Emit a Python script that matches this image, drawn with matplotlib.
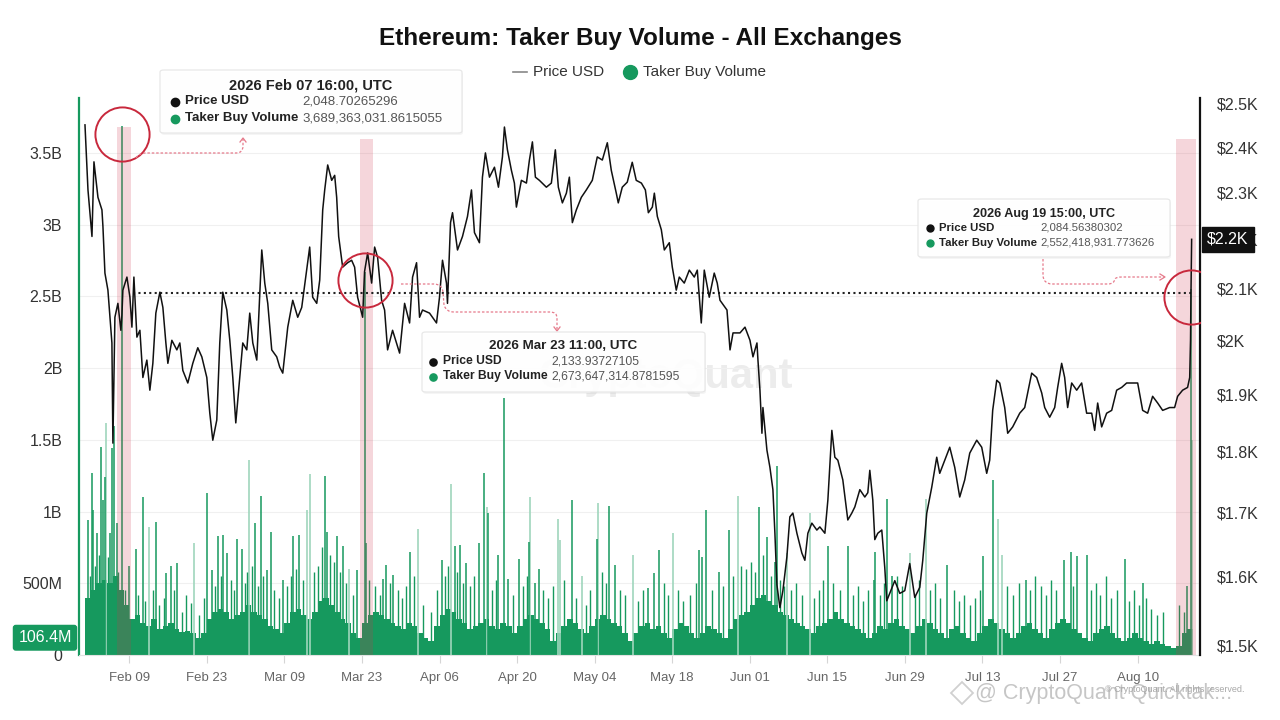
import matplotlib
matplotlib.use('Agg')
import matplotlib.pyplot as plt
import matplotlib.dates as mdates
import matplotlib.patches as mpatches
import matplotlib.transforms as mtrans
from matplotlib.path import Path
from matplotlib.lines import Line2D
import numpy as np
import pandas as pd

plt.rcParams['font.family'] = ['Liberation Sans', 'DejaVu Sans']

START = pd.Timestamp('2026-02-01')

# ---------------- data (days since 2026-02-01 00:00 UTC) ----------------
price_days = [0.00, 0.54, 1.26, 1.62, 2.34, 3.06, 3.24, 3.60, 4.14, 4.86, 5.04, 5.40, 5.94, 6.48, 6.67, 6.84,
              7.57, 8.11, 8.47, 8.83, 9.37, 9.91, 10.45, 11.17, 11.71, 12.25, 12.79, 13.52, 14.06, 14.60, 14.96,
              15.68, 16.58, 17.12, 17.66, 18.56, 19.46, 20.36, 21.09, 21.99, 22.53, 23.07, 23.79, 24.33, 24.87,
              25.60, 26.14, 26.68, 27.22, 27.94, 28.48, 29.20, 29.74, 30.29, 31.01, 31.91, 32.45, 32.99, 33.71,
              34.61, 35.15, 35.70, 36.60, 37.50, 38.40, 39.12, 39.84, 40.56, 41.10, 41.83, 42.37, 42.91, 43.27,
              43.81, 44.53, 45.07, 45.43, 45.79, 46.51, 47.41, 48.13, 48.67, 49.21, 50.12, 50.46, 51.02, 51.74,
              52.28, 52.82, 53.54, 54.08, 54.62, 55.52, 56.79, 57.69, 58.59, 59.13, 59.85, 60.39, 60.93, 62.19,
              63.45, 63.99, 64.53, 65.25, 65.43, 65.98, 66.34, 67.24, 68.14, 69.04, 69.76, 70.30, 71.20, 71.74,
              72.28, 73.01, 73.91, 74.63, 75.35, 75.71, 76.25, 76.97, 77.51, 77.87, 78.77, 79.68, 80.22, 80.76,
              81.30, 82.02, 83.28, 84.18, 84.90, 85.44, 86.17, 86.89, 87.43, 87.97, 88.69, 89.59, 90.49, 91.57,
              92.47, 93.38, 94.28, 95.00, 95.90, 96.26, 96.98, 97.88, 98.78, 99.50, 100.43, 101.15, 101.69,
              102.41, 102.77, 103.31, 104.03, 104.57, 105.47, 106.01, 106.73, 107.27, 108.17, 109.08, 109.98,
              110.52, 111.24, 111.78, 112.68, 113.58, 114.12, 114.62, 115.88, 116.43, 116.97, 118.23, 119.13,
              120.03, 120.57, 121.29, 121.47, 121.83, 122.19, 122.37, 123.09, 123.63, 124.17, 124.53, 124.89,
              125.43, 125.97, 126.69, 127.23, 127.77, 128.50, 129.40, 129.94, 130.48, 131.20, 132.10, 132.64,
              133.55, 134.09, 134.81, 135.35, 135.89, 136.79, 137.69, 138.41, 138.96, 139.86, 140.76, 141.30,
              141.66, 142.20, 142.56, 143.10, 143.82, 144.36, 144.72, 145.26, 146.17, 147.07, 147.97, 148.87,
              149.77, 150.68, 151.22, 151.94, 152.84, 153.74, 154.28, 155.19, 156.09, 156.99, 157.89, 158.79,
              159.70, 160.96, 161.86, 162.76, 163.30, 163.84, 164.57, 165.11, 166.01, 166.55, 167.45, 168.72,
              169.62, 170.16, 170.88, 171.78, 172.69, 173.23, 174.13, 175.03, 175.57, 176.29, 176.83, 177.37,
              178.10, 179.00, 179.90, 180.80, 181.71, 182.25, 182.79, 183.51, 184.41, 185.32, 186.22, 187.12,
              188.02, 189.11, 190.01, 190.91, 191.81, 192.71, 193.62, 194.52, 195.78, 196.68, 197.22, 198.12,
              199.02, 199.40, 199.55, 199.625, 199.75]
price_usd = [2451, 2305, 2206, 2367, 2289, 2262, 2227, 2131, 2097, 1995, 1815, 2044, 2071, 2019, 2049, 2097,
             2123, 2083, 2025, 2123, 2006, 2019, 1931, 1963, 1908, 1957, 2052, 2093, 2063, 1995, 1957,
             2000, 1982, 1995, 1944, 1921, 1957, 1986, 1969, 1931, 1867, 1820, 1855, 1995, 2093,
             2058, 2000, 1931, 1850, 1931, 1995, 1982, 2052, 1995, 1963, 2178, 2111, 2071, 1982,
             1969, 1950, 1939, 2025, 2077, 2044, 2063, 2123, 2184, 2083, 2071, 2117, 2262, 2305,
             2360, 2326, 2337, 2289, 2206, 2143, 2152, 2157, 2143, 2083, 2044, 2134, 2172, 2111,
             2184, 2163, 2077, 2058, 1982, 2019, 1976, 2071, 2033, 2123, 2152, 2044, 2058, 2052,
             2033, 2083, 2157, 2111, 2071, 2235, 2256, 2178, 2206, 2248, 2305, 2214, 2193, 2333,
             2387, 2333, 2355, 2311, 2378, 2446, 2394, 2348, 2320, 2268, 2326, 2320, 2371, 2412,
             2333, 2326, 2311, 2320, 2394, 2311, 2277, 2298, 2333, 2235, 2262, 2289, 2305, 2326,
             2378, 2371, 2410, 2348, 2298, 2277, 2311, 2322, 2366, 2326, 2320, 2305, 2256,
             2268, 2298, 2248, 2220, 2178, 2193, 2143, 2097, 2123, 2111, 2137, 2123,
             2137, 2033, 2137, 2083, 2131, 2111, 2077, 2058, 1982, 2014, 2014, 2025,
             2000, 1969, 1995, 1963, 1908, 1832, 1877, 1803, 1774, 1737, 1667, 1588,
             1554, 1579, 1630, 1693, 1699, 1667, 1636, 1625, 1667, 1683, 1672, 1677,
             1667, 1720, 1837, 1791, 1786, 1753, 1688, 1699, 1709, 1737, 1725, 1732,
             1769, 1720, 1657, 1667, 1672, 1614, 1564, 1575, 1594, 1575, 1579, 1620,
             1569, 1584, 1625, 1699, 1741, 1791, 1764, 1786, 1808, 1774, 1725, 1753,
             1798, 1820, 1808, 1764, 1786, 1872, 1926, 1921, 1877, 1832, 1843, 1867,
             1877, 1903, 1939, 1931, 1903, 1877, 1860, 1877, 1913, 1957, 1931, 1877,
             1921, 1908, 1921, 1867, 1867, 1837, 1885, 1843, 1867, 1872, 1908, 1913,
             1921, 1921, 1921, 1872, 1867, 1897, 1885, 1872, 1877, 1877, 1897, 1908,
             1913, 1931, 2000, 2085, 2200]

# typical (dense) taker buy volume per day, in billions USD
base_volume_b = [0.40, 0.45,
                 0.50, 0.52, 0.50, 0.55, 0.45, 0.35,
                 0.25, 0.28, 0.22, 0.20, 0.25, 0.18, 0.20, 0.22, 0.18, 0.16, 0.17, 0.15,
                 0.12, 0.15, 0.25, 0.30, 0.32, 0.30, 0.25, 0.28, 0.30, 0.35, 0.30, 0.28, 0.25, 0.20, 0.18,
                 0.15, 0.22, 0.30, 0.32, 0.28, 0.25, 0.30, 0.38, 0.40, 0.35, 0.30, 0.25, 0.22,
                 0.15, 0.12, 0.22, 0.28, 0.30, 0.28, 0.25, 0.22, 0.20, 0.18, 0.22, 0.20,
                 0.15, 0.12, 0.10, 0.20, 0.28, 0.32, 0.30, 0.25, 0.22, 0.18, 0.20,
                 0.22, 0.25, 0.20, 0.18, 0.22, 0.20, 0.15, 0.20, 0.25, 0.28, 0.25, 0.22, 0.18, 0.10, 0.15, 0.20,
                 0.25, 0.22, 0.18,
                 0.15, 0.20, 0.25, 0.28, 0.25, 0.22, 0.20, 0.15, 0.10, 0.15, 0.20, 0.22, 0.18, 0.20, 0.15, 0.12,
                 0.18, 0.22, 0.20, 0.15,
                 0.12, 0.15, 0.20, 0.18, 0.15, 0.12, 0.18, 0.25, 0.28, 0.30,
                 0.35, 0.40, 0.42, 0.38, 0.35, 0.30, 0.28, 0.25, 0.22, 0.20,
                 0.18, 0.15, 0.20, 0.22, 0.25, 0.30, 0.25, 0.22, 0.20, 0.18, 0.15, 0.12, 0.15, 0.20, 0.18,
                 0.22, 0.25, 0.20, 0.18, 0.15, 0.20, 0.25, 0.22, 0.18, 0.15, 0.12, 0.18, 0.20, 0.15, 0.12, 0.10,
                 0.15, 0.20, 0.25, 0.22,
                 0.18, 0.15, 0.12, 0.15, 0.20, 0.22, 0.18, 0.15, 0.12, 0.18, 0.22, 0.25, 0.22, 0.18, 0.15, 0.12,
                 0.10, 0.15, 0.18, 0.20,
                 0.15, 0.12, 0.10, 0.12, 0.15, 0.12, 0.10, 0.08, 0.10, 0.08, 0.06, 0.05, 0.06, 0.15, 0.18]

# tall hourly spikes (dark)
spike_days = [0.6, 1.21, 1.39, 2.11, 2.84, 3.2, 3.61, 4.52, 4.93, 5.2, 5.7, 6.67, 8.0, 9.21, 10.53, 12.77,
              14.6, 15.6, 16.66, 22.08, 22.87, 24.07, 24.97, 25.7, 27.39, 28.29, 30.69, 31.72, 32.8, 33.64,
              35.8, 37.6, 38.58, 43.33, 43.63, 45.55, 46.63, 49.16, 50.46, 50.72, 53.85, 54.34, 55.66, 58.67,
              64.39, 66.8, 67.7, 68.78, 71.18,
              72.02, 72.8, 74.6, 75.63, 76.41, 78.4, 80.2, 81.2, 81.9, 87.85, 92.36, 94.53, 95.73, 101.69,
              102.71, 103.67, 110.83, 111.37, 112.03, 114.5, 116.25, 121.72, 123.17, 124.5, 124.85, 134.06,
              137.79, 142.48,
              142.54, 144.82, 145.73, 155.65, 162.15, 163.84, 169.79, 176.72, 177.92, 179.0, 180.8, 187.79,
              190.91, 198.86, 199.62]
spike_vol_b = [0.94, 1.27, 1.01, 0.85, 1.45, 1.08, 1.24, 0.85, 1.44, 1.60, 0.92, 3.689, 0.62, 0.74, 1.10, 0.93,
               0.57, 0.62, 0.64, 1.13, 0.59, 0.83, 0.84, 0.71, 0.81, 0.74, 0.92, 1.11, 0.59, 0.86,
               0.52, 0.83, 0.84, 1.25, 0.86, 0.83, 0.76, 0.59, 2.674, 0.78, 0.53, 0.63, 0.56, 0.72,
               0.66, 0.76, 0.77, 0.64, 0.78,
               1.27, 0.99, 0.70, 1.79, 0.53, 0.67, 0.79, 0.50, 0.60, 1.08, 0.81, 1.04, 0.63, 0.47,
               0.57, 0.73, 0.73, 0.68, 1.01, 0.58, 0.87, 1.03, 0.82, 0.65, 1.32, 0.76,
               0.76, 0.52,
               0.72, 1.09, 0.55, 0.63, 0.69, 1.22, 0.52, 0.66, 0.72, 0.69, 0.70, 0.67,
               0.50, 0.48, 2.552]

# tall spikes rendered lighter (thin, anti-aliased)
light_days = [3.79, 11.6, 19.67, 29.66, 40.02, 40.62, 47.71, 60.17, 66.0, 72.62, 80.33, 85.32, 85.74, 89.65,
              92.54, 98.98, 106.2, 117.8, 126.66, 130.87, 148.91, 151.8, 164.8, 165.52, 199.8]
light_vol_b = [1.62, 0.89, 0.78, 1.36, 1.01, 1.26, 0.60, 0.88, 1.19, 1.03, 1.10, 0.95, 0.80, 0.55,
               1.06, 0.70, 0.85, 1.11, 0.71, 0.99, 0.71, 1.09, 0.95, 0.70, 1.50]

# medium hourly spikes
mid_days = [0.9, 1.8, 2.5, 4.1, 6.0, 7.3, 9.6, 10.9, 12.2, 13.4, 14.2, 16.1, 17.5, 18.3, 19.1, 20.5, 21.4,
            23.4, 24.5, 26.3, 26.9, 28.9, 29.3, 30.2, 31.2, 32.2, 34.2, 35.1, 36.4, 37.1, 38.1, 39.3, 41.3,
            42.1, 42.8, 44.2, 45.0, 46.0, 47.2, 48.3, 51.3, 52.3, 53.2, 55.1, 56.5, 57.3, 58.0, 59.3, 61.0,
            62.5, 63.5, 65.0, 65.6, 67.2, 68.2, 69.5, 70.3, 73.5, 74.1, 77.2, 79.0, 79.7, 82.6, 83.5, 84.4,
            86.5, 88.6, 90.4, 91.2, 93.3, 94.0, 96.5, 97.4, 99.8, 100.7, 104.5, 105.3, 107.1, 108.0, 109.2,
            110.2, 113.1, 115.2, 117.0, 118.5, 119.4, 120.3, 121.0, 122.3, 123.8, 125.5, 126.2, 127.4, 128.3,
            129.4, 131.6, 132.5, 133.3, 135.0, 136.2, 138.6, 139.5, 140.5, 141.4, 143.5, 144.2, 146.6, 147.5,
            149.8, 150.6, 152.5, 153.4, 154.3, 156.8, 157.7, 158.6, 159.8, 160.7, 161.5, 166.5, 167.5, 168.5,
            170.6, 171.5, 172.5, 173.4, 174.4, 175.3, 178.4, 181.6, 182.4, 183.3, 184.3, 185.2, 186.2, 188.5,
            189.4, 190.3, 191.6, 192.4, 193.5, 194.5, 197.5, 198.3]
mid_vol_b = [0.55, 0.62, 0.70, 0.68, 0.58, 0.45, 0.42, 0.38, 0.45, 0.35, 0.40, 0.45, 0.30, 0.42, 0.36, 0.28, 0.40,
             0.48, 0.55, 0.52, 0.45, 0.50, 0.58, 0.62, 0.48, 0.55, 0.45, 0.40, 0.48, 0.55, 0.60, 0.52, 0.58,
             0.62, 0.75, 0.70, 0.65, 0.58, 0.50, 0.42, 0.52, 0.48, 0.42, 0.50, 0.45, 0.40, 0.48, 0.55, 0.35,
             0.30, 0.45, 0.55, 0.62, 0.58, 0.50, 0.48, 0.55, 0.45, 0.52, 0.42, 0.48, 0.55, 0.45, 0.40, 0.48,
             0.52, 0.40, 0.35, 0.45, 0.58, 0.50, 0.45, 0.42, 0.38, 0.45, 0.50, 0.42, 0.45, 0.38, 0.42,
             0.50, 0.45, 0.48, 0.55, 0.62, 0.60, 0.65, 0.58, 0.70, 0.55, 0.52, 0.48, 0.45, 0.50,
             0.42, 0.40, 0.45, 0.52, 0.50, 0.45, 0.42, 0.48, 0.38, 0.45, 0.42, 0.50, 0.55, 0.48,
             0.42, 0.52, 0.45, 0.50, 0.40, 0.45, 0.38, 0.42, 0.35, 0.40, 0.45, 0.48, 0.42, 0.50,
             0.45, 0.55, 0.48, 0.42, 0.52, 0.45, 0.48, 0.45, 0.50, 0.42, 0.55, 0.40, 0.45, 0.38,
             0.45, 0.35, 0.40, 0.32, 0.28, 0.30, 0.35, 0.30]

# highlighted tooltips
tips = [
    dict(title='2026 Feb 07 16:00, UTC', day=6.67, price='2,048.70265296', vol='3,689,363,031.8615055',
         vol_b=3.689),
    dict(title='2026 Mar 23 11:00, UTC', day=50.46, price='2,133.93727105', vol='2,673,647,314.8781595',
         vol_b=2.674),
    dict(title='2026 Aug 19 15:00, UTC', day=199.62, price='2,084.56380302', vol='2,552,418,931.773626',
         vol_b=2.552),
]
band_days = [(5.75, 8.25), (49.6, 52.0), (197.0, 200.6)]
band_top_b = [3.68, 3.60, 3.60]
ref_level_b = 2.527
ref_span_days = (8.67, 199.6)

vol_ticks = [0, 0.5e9, 1e9, 1.5e9, 2e9, 2.5e9, 3e9, 3.5e9]
vol_tick_labels = ['0', '500M', '1B', '1.5B', '2B', '2.5B', '3B', '3.5B']
price_ticks = [1500, 1600, 1700, 1800, 1900, 2000, 2100, 2200, 2300, 2400, 2500]
price_tick_labels = ['$1.5K', '$1.6K', '$1.7K', '$1.8K', '$1.9K', '$2K', '$2.1K', '$2.2K', '$2.3K',
                     '$2.4K', '$2.5K']
last_volume_label = '106.4M'
last_volume = 106.4e6
last_price_label = '$2.2K'
last_price = 2200

# ---------------- helpers ----------------
def to_num(days):
    return mdates.date2num(START + pd.to_timedelta(np.asarray(days, dtype=float), unit='D'))

W, H = 1280, 720
def P(x, y):
    return (x / W, 1 - y / H)

GREEN = '#16995e'
LIGHT = '#9fd6bc'
RED = '#c8283c'
PINK = '#e67a8b'

fig = plt.figure(figsize=(12.8, 7.2), dpi=100)
ax = fig.add_axes([79 / W, 1 - 655 / H, (1200 - 79) / W, (655 - 98) / H])
ax2 = ax.twinx()

# volume
base_x = mdates.date2num(pd.date_range(START, periods=len(base_volume_b), freq='D'))
ax.bar(base_x, np.array(base_volume_b) * 1e9, width=1.0, align='edge', color=GREEN, linewidth=0, zorder=1)
ax.vlines(to_num(mid_days), 0, np.array(mid_vol_b) * 1e9, color=GREEN, lw=1.0, zorder=1.2)
ax.vlines(to_num(light_days), 0, np.array(light_vol_b) * 1e9, color=LIGHT, lw=1.2, zorder=1.1)
ax.vlines(to_num(spike_days), 0, np.array(spike_vol_b) * 1e9, color=GREEN, lw=1.1, zorder=1.3)

# bands
for (d0, d1), top in zip(band_days, band_top_b):
    x0, x1 = to_num([d0, d1])
    ax.add_patch(mpatches.Rectangle((x0, 0), x1 - x0, top * 1e9, facecolor=(0.82, 0.2, 0.3),
                                    alpha=0.2, linewidth=0, zorder=3))

# reference dotted line
rx = to_num(list(ref_span_days))
ax.hlines(ref_level_b * 1e9, rx[0], rx[1], colors='#222222', linestyles=(0, (1.0, 1.6)), lw=1.5, zorder=4)

ax.set_ylim(0, 3.884e9)
ax.set_xlim(to_num([-1.08, 201.26]))
ax.set_yticks(vol_ticks)
ax.set_yticklabels(vol_tick_labels)
ax.yaxis.grid(True, color='#f0f0f0', lw=0.8)
ax.set_axisbelow(True)
xt = pd.date_range('2026-02-09', '2026-08-10', freq='14D')
ax.set_xticks(mdates.date2num(xt))
ax.set_xticklabels([t.strftime('%b %d') for t in xt])
ax.tick_params(axis='x', length=6, color='#d5d5d5', pad=6, labelsize=9.5, labelcolor='#666666')
ax.tick_params(axis='y', length=0, pad=12, labelsize=11.5, labelcolor='#333333')
for s in ['top', 'right']:
    ax.spines[s].set_visible(False)
ax.spines['left'].set_color(GREEN)
ax.spines['left'].set_linewidth(1.6)
ax.spines['bottom'].set_color('#e3e3e3')

# price
ax2.plot(to_num(price_days), price_usd, color='#111111', lw=1.1, zorder=5)
ax2.set_yscale('log')
ax2.set_ylim(1486, 2514)
ax2.yaxis.set_major_locator(matplotlib.ticker.FixedLocator(price_ticks))
ax2.yaxis.set_minor_locator(matplotlib.ticker.NullLocator())
ax2.set_yticklabels(price_tick_labels)
ax2.tick_params(axis='y', length=0, pad=12, labelsize=11.5, labelcolor='#333333')
for s in ['top', 'left', 'bottom']:
    ax2.spines[s].set_visible(False)
ax2.spines['right'].set_color('#111111')
ax2.spines['right'].set_linewidth(1.6)

# red circles around highlighted points
off = mtrans.ScaledTranslation(0, -8 / 100, fig.dpi_scale_trans)
for t in tips:
    ax2.add_line(Line2D(to_num([t['day']]), [t['vol_b'] * 1e9], transform=ax.transData + off,
                        marker='o', markersize=39, markerfacecolor='none', markeredgecolor=RED,
                        markeredgewidth=1.4, linestyle='none', zorder=8))

# current value labels
ax.annotate(last_volume_label, xy=(0, last_volume), xycoords=('axes fraction', 'data'),
            xytext=(-34, 2), textcoords='offset pixels', ha='center', va='center', fontsize=11.5,
            color='white', annotation_clip=False, zorder=10,
            bbox=dict(boxstyle='round,pad=0.3,rounding_size=0.15', fc=GREEN, ec=GREEN))
ax2.annotate(last_price_label, xy=(1, last_price), xycoords=('axes fraction', 'data'),
             xytext=(28, 0), textcoords='offset pixels', ha='center', va='center', fontsize=11.5,
             color='white', annotation_clip=False, zorder=10,
             bbox=dict(boxstyle='square,pad=0.3', fc='#111111', ec='#111111'))

# watermarks
ax.text(666 / W, 1 - 377 / H, 'CryptoQuant', transform=fig.transFigure, fontsize=30, color='#ececec',
        ha='center', va='center', fontweight='bold', zorder=0.5)
fig.add_artist(Line2D([962 / W], [1 - 693 / H], transform=fig.transFigure, marker='D', markersize=11,
                      markerfacecolor='none', markeredgecolor='#d0d0d0', markeredgewidth=1.3))
fig.text(975 / W, 1 - 693 / H, '@ CryptoQuant Quicktak...', fontsize=15.5, color='#c6c6c6', va='center')
fig.text(1105 / W, 1 - 690 / H, '\u00a9 CryptoQuant. All rights reserved.', fontsize=6.5, color='#a8a8a8',
         va='center')

# title & legend
fig.text(0.5, 1 - 38 / H, 'Ethereum: Taker Buy Volume - All Exchanges', ha='center', va='center',
         fontsize=17.5, fontweight='bold', color='#111111')
fig.add_artist(Line2D([513 / W, 527 / W], [1 - 72 / H] * 2, transform=fig.transFigure, color='#888888', lw=1.2))
fig.text(533 / W, 1 - 72 / H, 'Price USD', va='center', fontsize=11, color='#333333')
fig.add_artist(Line2D([630 / W], [1 - 72 / H], transform=fig.transFigure, marker='o', markersize=10,
                      color=GREEN, linestyle='none'))
fig.text(643 / W, 1 - 72 / H, 'Taker Buy Volume', va='center', fontsize=11, color='#333333')

# tooltip boxes
boxes = [
    dict(rect=(160, 70, 462, 133), title_y=85, rows=(101.5, 118.5), bx=175, lx=185, vx=302, tfs=10.5, fs=9.5, ms=6),
    dict(rect=(422, 332, 705, 392), title_y=346, rows=(361.5, 376.5), bx=433, lx=443, vx=551, tfs=9.6, fs=8.7, ms=5.2),
    dict(rect=(918, 199, 1170, 257), title_y=214, rows=(227.7, 242.7), bx=930, lx=939, vx=1040, tfs=9.1, fs=8.2, ms=5),
]
for t, b in zip(tips, boxes):
    x0, y0, x1, y1 = b['rect']
    fx0, fy1 = P(x0, y1)
    shadow = mpatches.FancyBboxPatch((fx0 + 1 / W, fy1 - 2 / H), (x1 - x0) / W, (y1 - y0) / H,
                                     boxstyle='round,pad=0,rounding_size=0.003', transform=fig.transFigure,
                                     facecolor='#000000', alpha=0.04, linewidth=0, zorder=20)
    fig.add_artist(shadow)
    box = mpatches.FancyBboxPatch((fx0, fy1), (x1 - x0) / W, (y1 - y0) / H,
                                  boxstyle='round,pad=0,rounding_size=0.003', transform=fig.transFigure,
                                  facecolor='white', edgecolor='#e6e6e6', linewidth=0.9, alpha=0.93, zorder=21)
    fig.add_artist(box)
    cx = (x0 + x1) / 2
    fig.text(*P(cx, b['title_y']), t['title'], ha='center', va='center', fontsize=b['tfs'],
             fontweight='bold', color='#222222', zorder=22)
    for ry, lab, val, col in [(b['rows'][0], 'Price USD', t['price'], '#111111'),
                              (b['rows'][1], 'Taker Buy Volume', t['vol'], GREEN)]:
        fig.add_artist(Line2D([b['bx'] / W], [1 - ry / H], transform=fig.transFigure, marker='o',
                              markersize=b['ms'], color=col, linestyle='none', zorder=22))
        fig.text(*P(b['lx'], ry), lab, va='center', fontsize=b['fs'], fontweight='bold', color='#222222',
                 zorder=22)
        fig.text(*P(b['vx'], ry), val, va='center', fontsize=b['fs'], color='#555555', zorder=22)

# dashed connectors
def connector(verts, codes, arrow):
    v = [P(x, y) for x, y in verts]
    path = Path(v, codes)
    fig.add_artist(mpatches.PathPatch(path, transform=fig.transFigure, facecolor='none', edgecolor=PINK,
                                      lw=0.9, linestyle=(0, (2.0, 1.5)), zorder=19))
    fig.add_artist(Line2D([P(x, y)[0] for x, y in arrow], [P(x, y)[1] for x, y in arrow],
                          transform=fig.transFigure, color=PINK, lw=0.9, zorder=19))

M, L, C = Path.MOVETO, Path.LINETO, Path.CURVE3
connector([(136, 158), (139, 153), (146, 153), (236, 153), (243, 153), (243, 146), (243, 139)],
          [M, C, C, L, C, C, L], [(240, 142), (243, 138), (246, 142)])
connector([(401, 284), (434, 284), (442, 284), (443, 292), (444, 305), (446, 312), (454, 312), (550, 312),
           (557, 312), (557, 318), (557, 330)],
          [M, L, C, C, L, C, C, L, C, C, L], [(554, 327), (557, 331), (560, 327)])
connector([(1043, 259), (1043, 276), (1044, 284), (1052, 284), (1108, 284), (1114, 284), (1115, 279),
           (1116, 277), (1122, 277), (1164, 277)],
          [M, L, C, C, L, C, C, C, C, L], [(1160, 274), (1165, 277), (1160, 280)])

fig.savefig('out.png', dpi=100)
